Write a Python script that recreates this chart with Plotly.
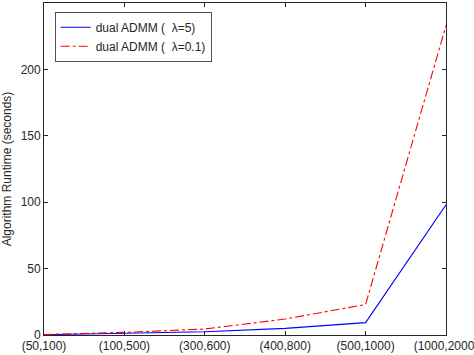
import plotly.graph_objects as go

categories = ["(50,100)", "(100,500)", "(300,600)", "(400,800)", "(500,1000)", "(1000,2000)"]
runtime_lambda5 = [0.2, 1.3, 2.5, 5.0, 9.3, 98.0]
runtime_lambda01 = [0.4, 2.0, 4.5, 12.0, 23.0, 233.0]
y_ticks = [0, 50, 100, 150, 200, 250]

fig = go.Figure()
fig.add_trace(go.Scatter(x=categories, y=runtime_lambda5, mode="lines",
                         name="dual ADMM (  \u03bb=5)",
                         line=dict(color="#0000ff", width=1.1)))
fig.add_trace(go.Scatter(x=categories, y=runtime_lambda01, mode="lines",
                         name="dual ADMM (  \u03bb=0.1)",
                         line=dict(color="#ff0000", width=1.1, dash="dashdot")))

axis_common = dict(showline=True, linecolor="#262626", linewidth=0.8, mirror="ticks",
                   ticks="inside", ticklen=4, tickcolor="#262626", showgrid=False,
                   zeroline=False, automargin=False,
                   tickfont=dict(size=12, color="#262626"))
fig.update_xaxes(**axis_common, type="category", range=[0, 5])
fig.update_yaxes(**axis_common, range=[0, 250], tickvals=y_ticks,
                 title=dict(text="Algorithm Runtime (seconds)", font=dict(size=12, color="#262626"), standoff=10))

fig.update_layout(
    width=474, height=355,
    margin=dict(l=44, r=28, t=3, b=20, autoexpand=False),
    paper_bgcolor="white", plot_bgcolor="white",
    font=dict(family="Liberation Sans, Arial, sans-serif", size=12, color="#262626"),
    legend=dict(x=0.027, y=0.973, xanchor="left", yanchor="top",
                bgcolor="white", bordercolor="#262626", borderwidth=0.8,
                font=dict(size=12), tracegroupgap=0, itemwidth=30),
    showlegend=True,
)
fig.write_html("out.html", config={"displayModeBar": False},
               post_script="document.body.style.margin='0';document.body.style.overflow='hidden';")
